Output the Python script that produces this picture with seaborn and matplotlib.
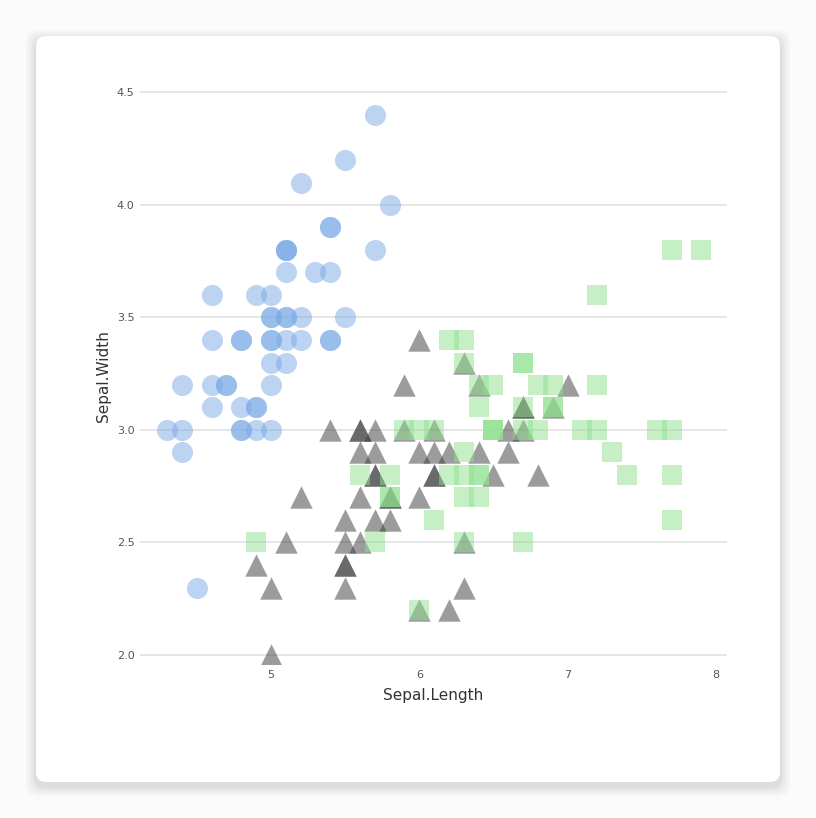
import matplotlib.pyplot as plt
from matplotlib.patches import FancyBboxPatch
import pandas as pd
import seaborn as sns

# iris: Sepal.Length / Sepal.Width
setosa_len = [5.1,4.9,4.7,4.6,5.0,5.4,4.6,5.0,4.4,4.9,5.4,4.8,4.8,4.3,5.8,5.7,5.4,5.1,5.7,5.1,5.4,5.1,4.6,5.1,4.8,
              5.0,5.0,5.2,5.2,4.7,4.8,5.4,5.2,5.5,4.9,5.0,5.5,4.9,4.4,5.1,5.0,4.5,4.4,5.0,5.1,4.8,5.1,4.6,5.3,5.0]
setosa_wid = [3.5,3.0,3.2,3.1,3.6,3.9,3.4,3.4,2.9,3.1,3.7,3.4,3.0,3.0,4.0,4.4,3.9,3.5,3.8,3.8,3.4,3.7,3.6,3.3,3.4,
              3.0,3.4,3.5,3.4,3.2,3.1,3.4,4.1,4.2,3.1,3.2,3.5,3.6,3.0,3.4,3.5,2.3,3.2,3.5,3.8,3.0,3.8,3.2,3.7,3.3]
versi_len = [7.0,6.4,6.9,5.5,6.5,5.7,6.3,4.9,6.6,5.2,5.0,5.9,6.0,6.1,5.6,6.7,5.6,5.8,6.2,5.6,5.9,6.1,6.3,6.1,6.4,
             6.6,6.8,6.7,6.0,5.7,5.5,5.5,5.8,6.0,5.4,6.0,6.7,6.3,5.6,5.5,5.5,6.1,5.8,5.0,5.6,5.7,5.7,6.2,5.1,5.7]
versi_wid = [3.2,3.2,3.1,2.3,2.8,2.8,3.3,2.4,2.9,2.7,2.0,3.0,2.2,2.9,2.9,3.1,3.0,2.7,2.2,2.5,3.2,2.8,2.5,2.8,2.9,
             3.0,2.8,3.0,2.9,2.6,2.4,2.4,2.7,2.7,3.0,3.4,3.1,2.3,3.0,2.5,2.6,3.0,2.6,2.3,2.7,3.0,2.9,2.9,2.5,2.8]
virg_len = [6.3,5.8,7.1,6.3,6.5,7.6,4.9,7.3,6.7,7.2,6.5,6.4,6.8,5.7,5.8,6.4,6.5,7.7,7.7,6.0,6.9,5.6,7.7,6.3,6.7,
            7.2,6.2,6.1,6.4,7.2,7.4,7.9,6.4,6.3,6.1,7.7,6.3,6.4,6.0,6.9,6.7,6.9,5.8,6.8,6.7,6.7,6.3,6.5,6.2,5.9]
virg_wid = [3.3,2.7,3.0,2.9,3.0,3.0,2.5,2.9,2.5,3.6,3.2,2.7,3.0,2.5,2.8,3.2,3.0,3.8,2.6,2.2,3.2,2.8,2.8,2.7,3.3,
            3.2,2.8,3.0,2.8,3.0,2.8,3.8,2.8,2.8,2.6,3.0,3.4,3.1,3.0,3.1,3.1,3.1,2.7,3.2,3.3,3.0,2.5,3.0,3.4,3.0]
species = ["setosa", "versicolor", "virginica"]
x_ticks = [5, 6, 7, 8]
y_ticks = [2.0, 2.5, 3.0, 3.5, 4.0, 4.5]

df = pd.DataFrame({
    "Sepal.Length": setosa_len + versi_len + virg_len,
    "Sepal.Width": setosa_wid + versi_wid + virg_wid,
    "Species": ["setosa"] * 50 + ["versicolor"] * 50 + ["virginica"] * 50,
})

sns.set_style("white")
fig = plt.figure(figsize=(8.16, 8.18), dpi=100)
fig.patch.set_facecolor("#fbfbfb")
W, H = 816, 818
# card with shadow
for i, a in enumerate([0.025, 0.025, 0.03, 0.04]):
    g = 10 - i * 2.5
    fig.patches.append(FancyBboxPatch(((36 - g) / W, (36 - g - 4) / H), (744 + 2 * g) / W, (746 + 2 * g) / H,
                                      boxstyle="round,pad=0,rounding_size=0.015", transform=fig.transFigure,
                                      facecolor="black", edgecolor="none", alpha=a, zorder=-2))
fig.patches.append(FancyBboxPatch((36 / W, 36 / H), 744 / W, 746 / H,
                                  boxstyle="round,pad=0,rounding_size=0.012", transform=fig.transFigure,
                                  facecolor="white", edgecolor="none", zorder=-1))

ax = fig.add_axes([140 / W, 1 - 664 / H, 587 / W, 576 / H])
ax.set_zorder(5)
ax.set_facecolor("none")
palette = {"setosa": "#7aaae6", "versicolor": "#3a3a3a", "virginica": "#8fe08f"}
markers = {"setosa": "o", "versicolor": "^", "virginica": "s"}
sizes = {"setosa": 230, "versicolor": 260, "virginica": 200}
for sp in species:
    sub = df[df["Species"] == sp]
    sns.scatterplot(data=sub, x="Sepal.Length", y="Sepal.Width", color=palette[sp], marker=markers[sp],
                    s=sizes[sp], alpha=0.5, linewidth=0, ax=ax, legend=False, zorder=3)

ax.set_xlim(4.118, 8.074)
ax.set_ylim(1.96, 4.52)
ax.set_xticks(x_ticks)
ax.set_yticks(y_ticks)
ax.set_yticklabels([f"{v:.1f}" for v in y_ticks])
ax.grid(axis="y", color="#e2e2e2", linewidth=1.2, zorder=0)
ax.grid(axis="x", visible=False)
for s in ax.spines.values():
    s.set_visible(False)
ax.tick_params(axis="both", labelsize=8, colors="#555555", length=2, width=0.8, direction="out")
ax.tick_params(axis="y", pad=2)
ax.tick_params(axis="x", direction="in", pad=4)
ax.set_xlabel("Sepal.Length", fontsize=11, color="#333333", labelpad=6)
ax.set_ylabel("Sepal.Width", fontsize=11, color="#333333", labelpad=4)

fig.savefig("out.png", dpi=100)
